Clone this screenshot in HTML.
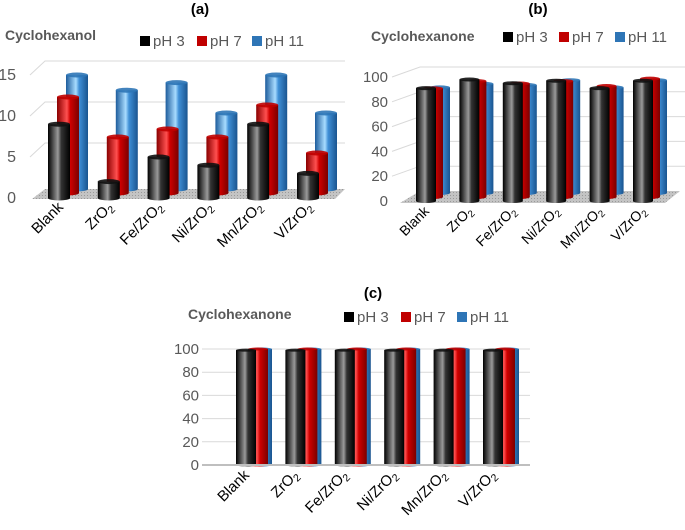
<!DOCTYPE html>
<html><head><meta charset="utf-8"><style>
body{margin:0;background:#fff;width:685px;height:525px;overflow:hidden}
svg{font-family:"Liberation Sans",sans-serif}
</style></head><body>
<svg id="fig" width="685" height="525" viewBox="0 0 685 525">
<defs>
<linearGradient id="gk" x1="0" x2="1"><stop offset="0" stop-color="#000"/><stop offset="0.45" stop-color="#9a9a9a"/><stop offset="0.6" stop-color="#333"/><stop offset="1" stop-color="#000"/></linearGradient>
<linearGradient id="gr" x1="0" x2="1"><stop offset="0" stop-color="#8a0000"/><stop offset="0.45" stop-color="#ff5050"/><stop offset="0.6" stop-color="#d00000"/><stop offset="1" stop-color="#7a0000"/></linearGradient>
<linearGradient id="gb" x1="0" x2="1"><stop offset="0" stop-color="#1d5c9c"/><stop offset="0.45" stop-color="#a8dcff"/><stop offset="0.6" stop-color="#3f8fd6"/><stop offset="1" stop-color="#1a548f"/></linearGradient>
<pattern id="dots" width="3" height="3" patternUnits="userSpaceOnUse"><rect width="3" height="3" fill="#c4c4c4"/><rect width="1" height="1" fill="#9a9a9a"/></pattern>
</defs>
</svg>
<script>
const cats = ["Blank","ZrO","Fe/ZrO","Ni/ZrO","Mn/ZrO","V/ZrO"];
const aBlack = [9, 2, 5, 4, 9, 3];
const aRed = [12, 7, 8, 7, 11, 5];
const aBlue = [15, 13, 14, 10, 15, 10];
const aTicks = [0, 5, 10, 15];
const bBlack = [91, 98, 95, 97, 91, 97];
const bRed = [89, 95, 93, 95, 91, 97];
const bBlue = [88, 91, 90, 94, 88, 94];
const bTicks = [0, 20, 40, 60, 80, 100];
const cBlack = [99, 99, 99, 99, 99, 99];
const cRed = [100, 100, 100, 100, 100, 100];
const cBlue = [100, 100, 100, 100, 100, 100];
const cTicks = [0, 20, 40, 60, 80, 100];

const NS = "http://www.w3.org/2000/svg";
const svg = document.getElementById("fig");
function mk(tag, attrs, parent){const e=document.createElementNS(NS,tag);for(const k in attrs)e.setAttribute(k,attrs[k]);(parent||svg).appendChild(e);return e;}

function panel(p){
  const g = mk("g",{});
  
  
  const t = mk("text",{x:p.titleX,y:p.titleY,"font-size":15,"font-weight":"bold","text-anchor":"middle",fill:"#000"},g);
  t.textContent = "(" + p.id + ")";
  
  
  const ct = mk("text",{x:p.chartX,y:p.chartY,"font-size":14,"font-weight":"bold",fill:"#595959"},g);
  ct.textContent = p.chartTitle;
  
  
  const lg=[["pH 3","#000"],["pH 7","#c00000"],["pH 11","#2e75b6"]];
  lg.forEach((l,i)=>{
    const r = mk("rect",{x:p.legX[i],y:p.legY-10,width:10,height:10,fill:l[1]},g);
    
    
    const tx = mk("text",{x:p.legX[i]+13,y:p.legY,"font-size":15,fill:"#595959"},g);
    tx.textContent = l[0];
    
    
  });
  if(p.floor){
    const f = mk("polygon",{points:p.floor,fill:"url(#dots)"},g);
    
    
  }
  p.ticks.forEach(v=>{
    const y = p.base[0] - v*p.scale[0];
    if(v>0){
      const gl = mk("polyline",{points:`${p.gx0},${y} ${p.gx1},${y-p.gdy} ${p.gx2},${y-p.gdy}`,fill:"none",stroke:"#d9d9d9","stroke-width":1},g);
      
      
    }
    const tl = mk("text",{x:p.tickX,y:y+5,"font-size":p.tickFs,"text-anchor":"end",fill:"#595959"},g);
    tl.textContent = v;
    
    
  });
  const series=[[p.blue,"url(#gb)",2,"#2e75b6"],[p.red,"url(#gr)",1,"#c00000"],[p.black,"url(#gk)",0,"#111"]];
  series.forEach(s=>{
    const [vals,fill,si,cap]=s;
    vals.forEach((v,i)=>{
      const x = p.x0 + i*p.step + p.off[si];
      const base = p.base[si];
      const top = base - v*p.scale[si];
      const w = p.w;
      const rb = mk("path",{d:`M${x},${top} L${x},${base} A${w/2},${p.ry} 0 0 0 ${x+w},${base} L${x+w},${top} Z`,fill:fill},g);
      
      
      const e = mk("ellipse",{cx:x+w/2,cy:top,rx:w/2,ry:p.ry,fill:cap,opacity:0.9},g);
      
      
    });
  });
  cats.forEach((c,i)=>{
    const cx = p.x0 + i*p.step + p.lblDx;
    const tx = mk("text",{x:cx,y:p.lblY,"font-size":p.lblFs,"text-anchor":"end",fill:"#000",transform:`rotate(-45 ${cx} ${p.lblY})`},g);
    
    
    tx.appendChild(document.createTextNode(c));
    if(i>0){
      const sub = mk("tspan",{"font-size":p.lblFs*0.7,dy:3},tx);
      sub.textContent="2";
    }
  });
}

panel({id:"a",titleX:200,titleY:14,chartTitle:"Cyclohexanol",chartX:5,chartY:40,legX:[140,197,252],legY:46,
  floor:"32,199 335,199 345,189 45,189",ticks:aTicks,tickX:16,tickFs:16,gx0:30,gx1:45,gx2:345,gdy:14,
  black:aBlack,red:aRed,blue:aBlue,x0:48,step:49.8,w:22,off:[0,9,18],base:[198,193,189],scale:[8.2,8.0,7.6],ry:2.5,
  lblDx:16,lblY:208,lblFs:15});
panel({id:"b",titleX:538,titleY:14,chartTitle:"Cyclohexanone",chartX:371,chartY:41,legX:[503,559,615],legY:42,
  floor:"400,203 665,203 680,191 420,191",ticks:bTicks,tickX:388,tickFs:15,gx0:392,gx1:420,gx2:685,gdy:10,
  black:bBlack,red:bRed,blue:bBlue,x0:416,step:43.4,w:20,off:[0,7,14],base:[201,197,193],scale:[1.24,1.22,1.2],ry:2,
  lblDx:14,lblY:212,lblFs:14});
panel({id:"c",titleX:373,titleY:298,chartTitle:"Cyclohexanone",chartX:188,chartY:319,legX:[344,401,457],legY:322,
  floor:null,ticks:cTicks,tickX:199,tickFs:15,gx0:202,gx1:204,gx2:530,gdy:0,
  black:cBlack,red:cRed,blue:cBlue,x0:236,step:49.4,w:20,off:[0,12,16],base:[465,465,465],scale:[1.16,1.16,1.16],ry:1.5,
  lblDx:14,lblY:476,lblFs:15});
const fl = mk("line",{x1:202,y1:465,x2:530,y2:465,stroke:"#bfbfbf","stroke-width":2});


</script>
</body></html>
